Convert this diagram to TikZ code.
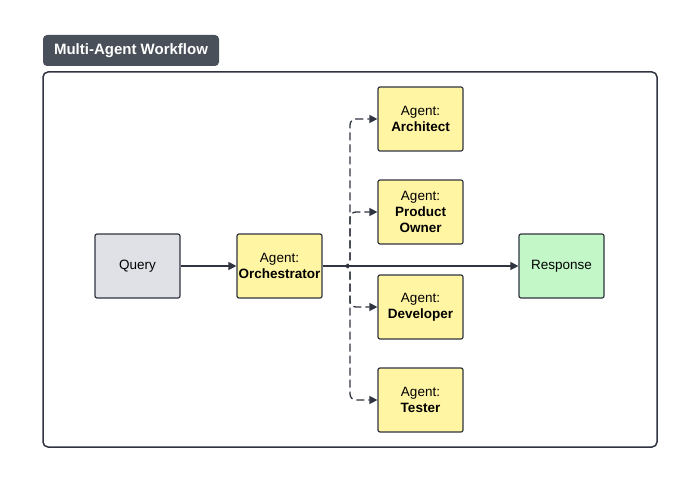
\documentclass[tikz,border=0pt]{standalone}
\usepackage{fontspec}
\setmainfont{Liberation Sans}
\usetikzlibrary{arrows.meta}
\definecolor{edge}{HTML}{2F3440}
\definecolor{gq}{HTML}{DFE1E6}
\definecolor{yl}{HTML}{FFF5A3}
\definecolor{gr}{HTML}{C3F7C8}
\definecolor{tag}{HTML}{4A5059}
\begin{document}
\begin{tikzpicture}[x=1pt,y=-1pt,
 box/.style={draw=edge,line width=1.2pt,rounded corners=2pt,minimum width=85pt,minimum height=64pt,align=center,font=\fontsize{13.5}{16}\selectfont,inner sep=0pt},
 arr/.style={draw=edge,line width=1.3pt,-{Triangle[length=8pt,width=8pt]}},
 dsh/.style={arr,dash pattern=on 8pt off 4pt,rounded corners=6pt}]
\useasboundingbox (0,0) rectangle (700,481);
\draw[edge,line width=1.5pt,rounded corners=5pt] (43,72) rectangle (657,447);
\node[fill=tag,rounded corners=4pt,text=white,font=\bfseries\fontsize{15}{17}\selectfont,minimum width=176pt,minimum height=31pt,inner sep=0pt] (title) at (131,50.5) {Multi-Agent Workflow};
\node[box,fill=gq] (q) at (137.5,266) {Query};
\node[box,fill=yl] (o) at (279.5,266) {Agent:\\\textbf{Orchestrator}};
\node[box,fill=gr] (r) at (561.5,266) {Response};
\node[box,fill=yl] (a1) at (420.5,119) {Agent:\\\textbf{Architect}};
\node[box,fill=yl] (a2) at (420.5,212) {Agent:\\\textbf{Product}\\\textbf{Owner}};
\node[box,fill=yl] (a3) at (420.5,307) {Agent:\\\textbf{Developer}};
\node[box,fill=yl] (a4) at (420.5,400) {Agent:\\\textbf{Tester}};
\draw[arr] (q) -- (o);
\draw[arr] (o) -- (r);
\coordinate (s) at (341,266);
\foreach \a in {a1,a2,a3,a4}{\draw[dsh] (s) -- (350,266) |- (\a.west);}
\end{tikzpicture}
\end{document}
